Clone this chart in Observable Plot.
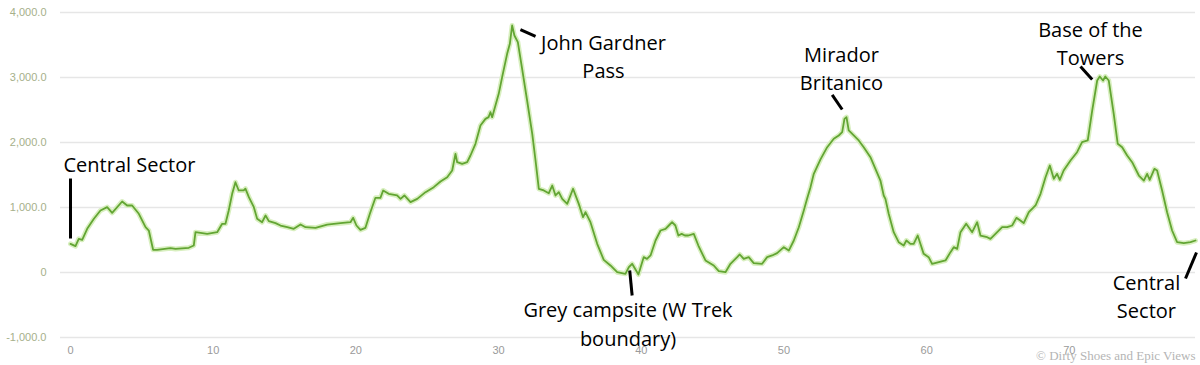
<!DOCTYPE html>
<html><head><meta charset="utf-8">
<script src="https://cdn.jsdelivr.net/npm/d3@7"></script>
<script src="https://cdn.jsdelivr.net/npm/@observablehq/plot@0.6"></script>
<style>body{margin:0;background:#fff}</style>
</head><body><div id="chart"></div>
<script>
const distanceKm = [0.0,0.35,0.58,0.82,1.17,1.64,2.1,2.57,2.92,3.62,3.97,4.32,4.79,5.26,5.49,5.79,6.07,7.0,7.36,8.29,8.64,8.76,9.58,10.28,10.63,10.86,11.09,11.33,11.56,11.79,12.14,12.26,12.5,12.85,13.08,13.43,13.67,13.9,14.37,14.72,15.19,15.65,16.12,16.47,17.17,17.99,18.92,19.62,19.81,20.04,20.32,20.67,20.98,21.37,21.72,21.91,22.3,22.89,23.13,23.4,23.83,24.3,24.88,25.46,25.93,26.4,26.75,26.98,27.1,27.45,27.8,28.03,28.38,28.73,29.08,29.3,29.43,29.55,29.78,30.01,30.25,30.6,30.79,30.95,31.11,31.35,31.65,32.0,32.36,32.59,32.82,33.17,33.52,33.76,33.99,34.22,34.46,34.81,35.22,35.62,35.92,36.09,36.44,36.91,37.37,37.84,38.31,38.89,39.13,39.36,39.8,40.17,40.4,40.65,41.0,41.35,41.7,41.93,42.16,42.39,42.6,42.83,43.06,43.3,43.68,44.0,44.5,45.08,45.43,45.9,46.25,46.72,46.9,47.18,47.53,47.88,48.47,48.82,49.17,49.52,49.99,50.34,50.69,51.04,51.39,51.62,51.86,52.09,52.56,53.03,53.49,53.84,54.08,54.24,54.38,54.54,54.89,55.24,55.59,56.06,56.41,56.76,56.99,57.11,57.34,57.69,58.04,58.39,58.58,58.86,59.09,59.37,59.56,59.79,60.14,60.38,60.85,61.32,61.67,61.9,62.14,62.37,62.77,63.19,63.54,63.77,64.24,64.47,64.82,65.29,65.64,65.99,66.29,66.57,66.8,67.16,67.63,67.98,68.33,68.63,68.91,69.14,69.33,69.6,70.08,70.54,70.89,71.29,71.6,71.95,72.13,72.36,72.52,72.76,73.11,73.39,73.7,74.05,74.4,74.87,75.22,75.45,75.63,75.96,76.15,76.5,76.85,77.2,77.55,78.02,78.49,78.84];
const elevationM = [441,405,518,503,672,826,954,1005,918,1092,1031,1031,903,697,646,349,349,374,362,380,415,620,595,620,749,749,954,1210,1389,1262,1262,1290,1159,1005,826,774,877,790,759,723,697,672,738,697,687,738,759,774,841,723,656,687,903,1149,1149,1262,1210,1185,1133,1185,1082,1133,1236,1313,1400,1466,1569,1826,1697,1672,1697,1800,1980,2262,2364,2390,2466,2390,2569,2749,3005,3364,3518,3800,3646,3543,3134,2646,2134,1723,1288,1262,1220,1338,1185,1236,1133,1056,1288,1056,851,928,774,441,195,108,5,-20,82,134,-31,236,210,262,492,646,672,723,774,723,569,595,569,569,595,415,185,108,20,5,134,236,277,210,236,144,134,236,262,298,390,338,492,697,954,1133,1313,1518,1740,1928,2057,2108,2159,2364,2390,2185,2108,2031,1928,1774,1595,1415,1185,1133,903,620,466,415,492,441,441,569,441,287,236,134,159,185,313,390,364,620,749,620,774,569,543,518,595,697,697,723,841,800,759,928,1031,1210,1466,1646,1441,1518,1426,1569,1723,1851,2005,2031,2492,2954,3015,2954,3015,2954,2441,1980,1928,1800,1697,1492,1415,1518,1426,1595,1569,1262,928,646,466,451,466,492];
const xTickValues = [0,10,20,30,40,50,60,70];
const yTickValues = [-1000,0,1000,2000,3000,4000];
const labelTexts = ["Central Sector","John Gardner\nPass","Mirador\nBritanico","Base of the\nTowers","Central\nSector","Grey campsite (W Trek\nboundary)"];
const labelKm = [4.13,37.35,54.03,71.48,75.4,39.07];
const labelElev = [1692,3346,3162,3546,-346,-769];
const leaderKm1 = [0,31.53,53.38,70.78,78.14,39.19];
const leaderElev1 = [1446,3738,2734,3169,-92,31];
const leaderKm2 = [0,32.59,54.08,71.6,78.91,39.36];
const leaderElev2 = [523,3631,2508,2969,308,-354];
const credit = "© Dirty Shoes and Epic Views";

const profile = distanceKm.map((k,i)=>({km:k, elev:elevationM[i]}));
const labels = labelTexts.map((t,i)=>({text:t, km:labelKm[i], elev:labelElev[i]}));
const leaders = leaderKm1.map((k,i)=>({x1:k, y1:leaderElev1[i], x2:leaderKm2[i], y2:leaderElev2[i]}));
const fmt = d => d === 0 ? "0" : d3.format(",.1f")(d).replace("\u2212","-");

const chart = Plot.plot({
  width: 1200, height: 365,
  marginLeft: 60, marginRight: 5, marginTop: 12, marginBottom: 28,
  style: {fontFamily: "Liberation Sans, Arial, sans-serif", background: "#fff"},
  x: {domain: [-0.7, 78.84]},
  y: {domain: [-1000, 4000]},
  marks: [
    Plot.ruleY(yTickValues, {stroke: "#e6e6e6", strokeWidth: 1.5}),
    Plot.axisX(xTickValues, {tickSize: 0, tickPadding: 9, fill: "#9a9a9a", fontSize: 11, label: null}),
    Plot.axisY(yTickValues, {tickSize: 0, tickPadding: 14, tickFormat: fmt, fill: "#a6b08a", fontSize: 11, label: null}),
    Plot.line(profile, {x: "km", y: "elev", stroke: "#d8efbf", strokeWidth: 5, strokeLinejoin: "round"}),
    Plot.line(profile, {x: "km", y: "elev", stroke: "#62a533", strokeWidth: 1.8, strokeLinejoin: "round"}),
    Plot.link(leaders, {x1: "x1", y1: "y1", x2: "x2", y2: "y2", stroke: "#000", strokeWidth: 3}),
    Plot.text(labels, {x: "km", y: "elev", text: "text", fontSize: 20, fontFamily: "Open Sans, sans-serif", lineHeight: 1.42, fill: "#000", lineAnchor: "middle"}),
    Plot.text([credit], {frameAnchor: "bottom-right", textAnchor: "end", lineAnchor: "middle", dy: 18, fontFamily: "Liberation Serif, serif", fontSize: 13, fill: "#b5b5b5"})
  ]
});
document.getElementById("chart").appendChild(chart);
</script>
</body></html>
